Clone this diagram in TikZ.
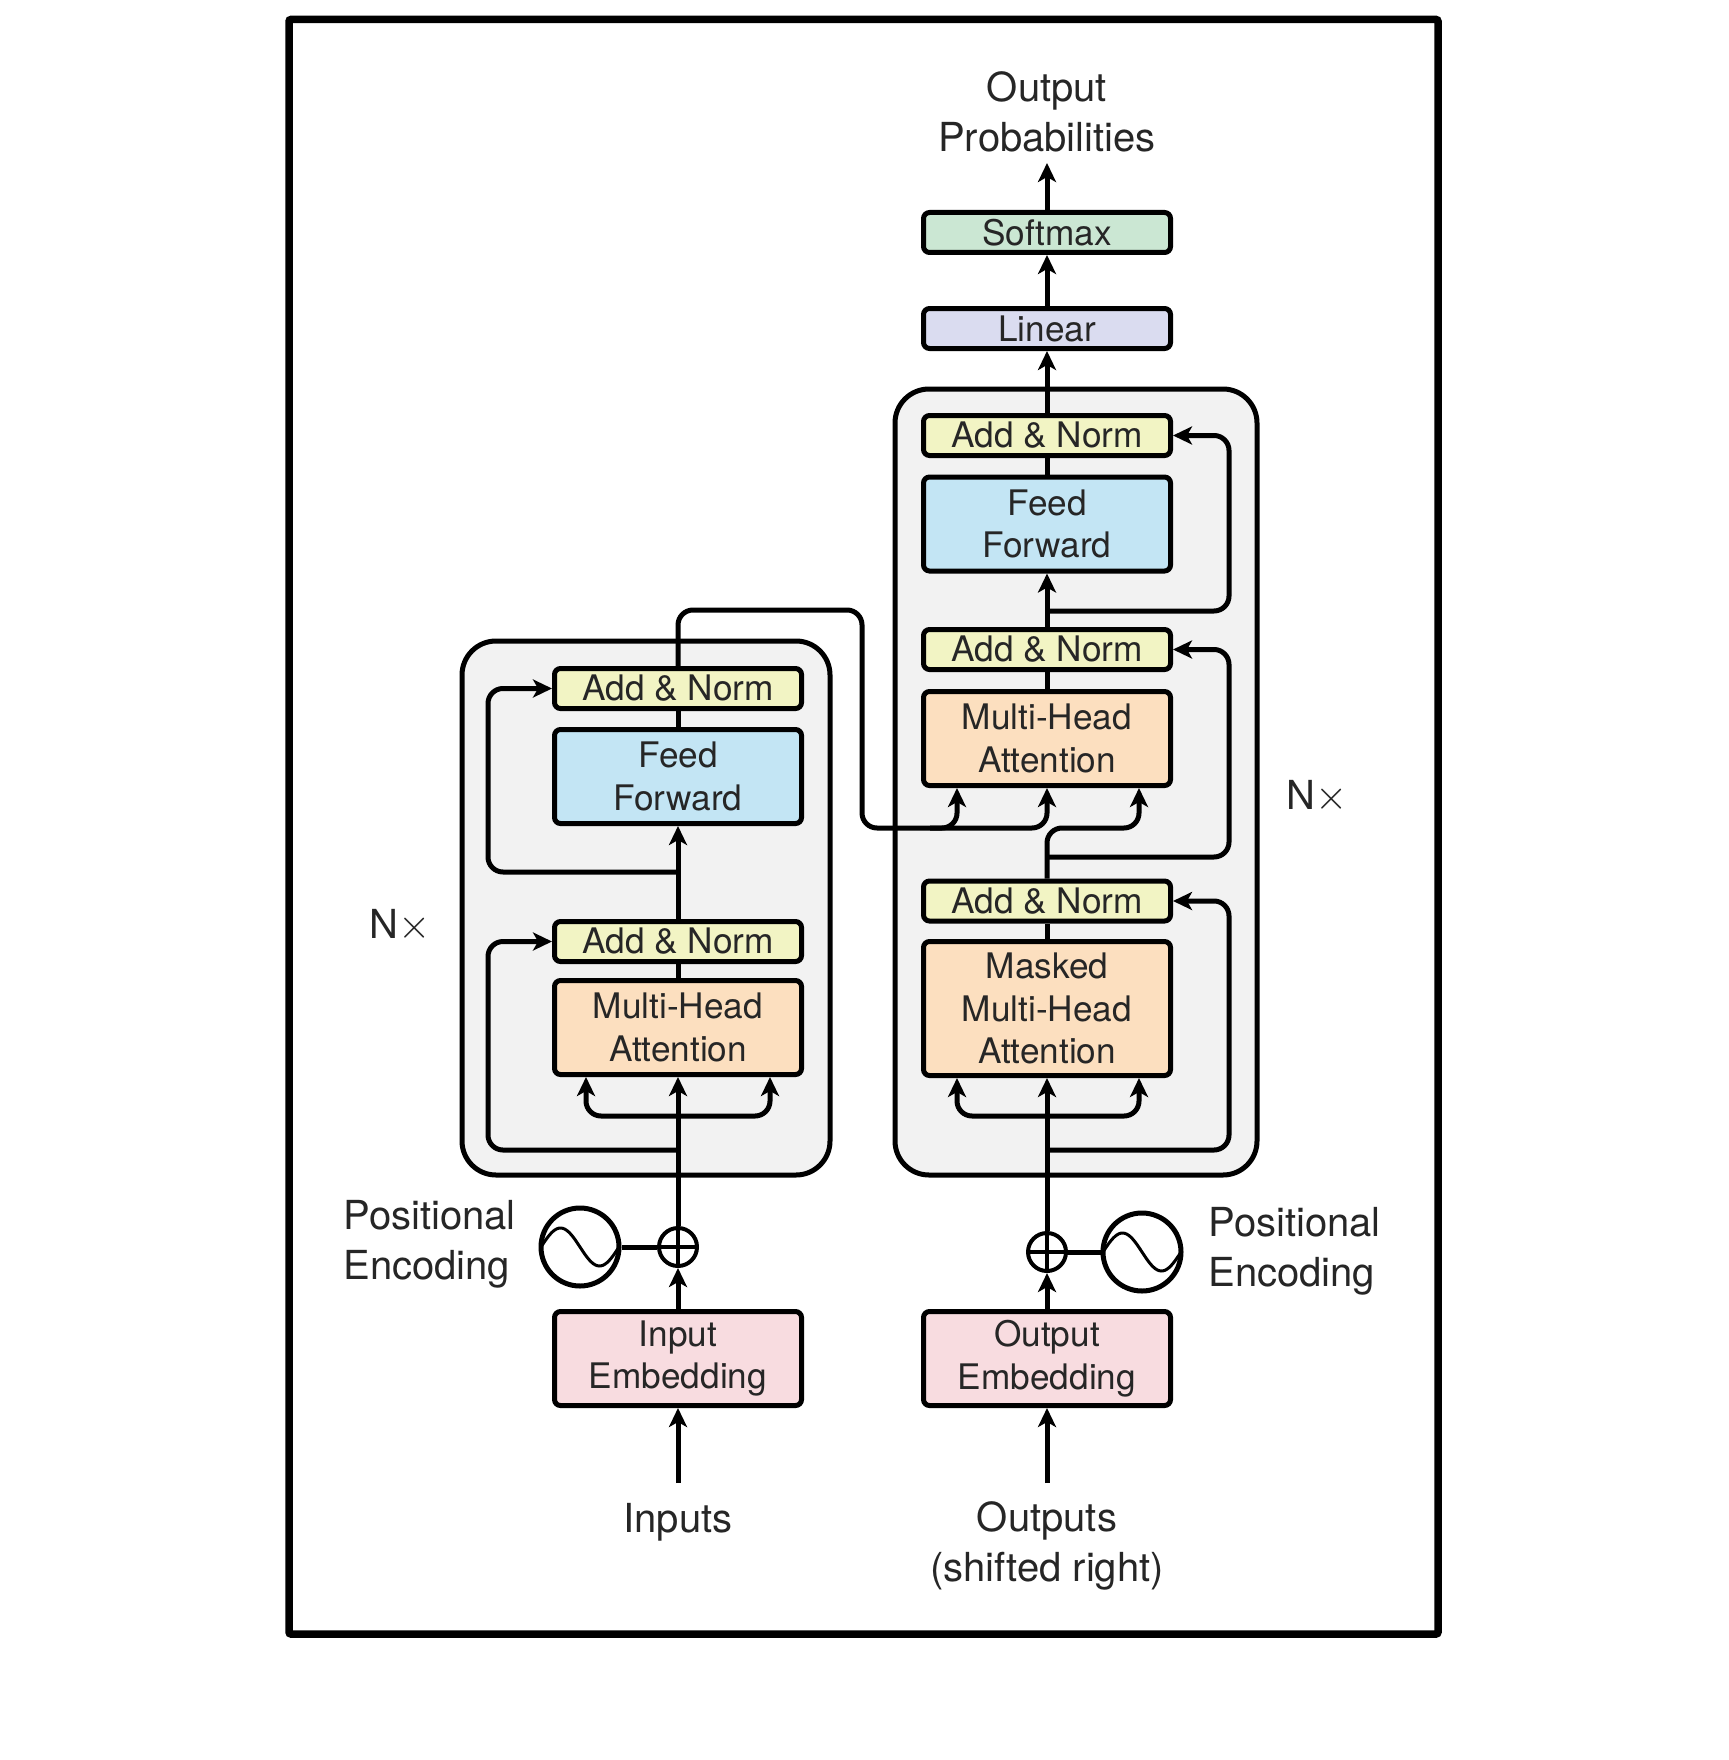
\documentclass[tikz,border=0pt]{standalone}
\usepackage{fontspec}
\setmainfont{TeX Gyre Heros}
\usetikzlibrary{arrows.meta}

\definecolor{normcol}{HTML}{F2F4C4}
\definecolor{ffcol}{HTML}{C3E5F4}
\definecolor{attcol}{HTML}{FCDFBF}
\definecolor{embcol}{HTML}{F8DCE0}
\definecolor{softcol}{HTML}{CBE7D3}
\definecolor{lincol}{HTML}{DADCF0}
\definecolor{layercol}{HTML}{F2F2F2}
\definecolor{txtcol}{HTML}{262626}

\tikzset{
	block/.style={draw, line width=2.5pt, rounded corners=3pt, minimum width=123.5pt,
		inner sep=0pt, align=center, text=txtcol, font=\fontsize{17.6}{21.3}\selectfont},
	norm/.style={block, fill=normcol, minimum height=20pt},
	twoline/.style={block, minimum height=47pt},
	layer/.style={draw, line width=2.5pt, rounded corners=17pt, fill=layercol},
	lab/.style={inner sep=0pt, text=txtcol, align=center, font=\fontsize{20}{25}\selectfont},
	conn/.style={line width=2.5pt, rounded corners=7.5pt},
	arr/.style={conn, -{Stealth[length=9.5pt,width=9pt,inset=2.5pt]}},
	summ/.style={circle, draw, line width=2pt, minimum size=19pt, inner sep=0pt},
	wave/.style={circle, draw, line width=2.5pt, minimum size=39pt, inner sep=0pt}
}

\begin{document}
\begin{tikzpicture}[x=0.5pt,y=-0.5pt]
		\useasboundingbox (0,0) rectangle (1728,1760);
		%frame
		\draw[line width=3.75pt, rounded corners=1pt] (289,19.5) rectangle (1438,1634);
		
		%layer stacks
		\draw[layer] (462,641) rectangle (830,1175);
		\draw[layer] (895,389) rectangle (1257,1175);
		
		%encoder
		\node[block, fill=embcol, minimum height=47pt] (iemb) at (678,1358.5) {Input\\Embedding};
		\node[twoline, fill=attcol] (emha) at (678,1027.5) {Multi-Head\\Attention};
		\node[norm] (ean1) at (678,941.5) {Add \& Norm};
		\node[twoline, fill=ffcol] (eff) at (678,776.5) {Feed\\Forward};
		\node[norm] (ean2) at (678,688.5) {Add \& Norm};
		\node[summ] (eplus) at (678,1247) {};
		\node[wave] (ewave) at (580,1247) {};
		
		%decoder
		\node[block, fill=embcol, minimum height=47pt] (oemb) at (1047,1358.5) {Output\\Embedding};
		\node[block, fill=attcol, minimum height=67pt] (dmmha) at (1047,1008.5) {Masked\\Multi-Head\\Attention};
		\node[norm] (dan1) at (1047,901) {Add \& Norm};
		\node[twoline, fill=attcol] (dmha) at (1047,738.5) {Multi-Head\\Attention};
		\node[norm] (dan2) at (1047,649.5) {Add \& Norm};
		\node[twoline, fill=ffcol] (dff) at (1047,524) {Feed\\Forward};
		\node[norm] (dan3) at (1047,435.5) {Add \& Norm};
		\node[norm, fill=lincol] (lin) at (1047,328.5) {Linear};
		\node[norm, fill=softcol] (soft) at (1047,232.5) {Softmax};
		\node[summ] (dplus) at (1047,1252) {};
		\node[wave] (dwave) at (1142,1252) {};
		
		%labels
		\node[lab] (outprob) at (1047,112) {Output\\Probabilities};
		\node[lab, align=left, anchor=west] (epos) at (343,1244) {Positional\\Encoding};
		\node[lab, align=left, anchor=west] (dpos) at (1208,1251) {Positional\\Encoding};
		\node[lab] (inp) at (678,1522) {Inputs};
		\node[lab] (outp) at (1047,1546) {Outputs\\(shifted right)};
		\node[lab] (enx) at (400,926) {N$\times$};
		\node[lab] (dnx) at (1317,797) {N$\times$};
		
		\coordinate (ein) at (678,1483);
		\coordinate (din) at (1047,1483);
		\coordinate (dout) at (1047,163);
		
		%plus signs and waves
		\foreach \s in {eplus, dplus}{
			\draw[line width=2pt] (\s.north) -- (\s.south);
			\draw[line width=2pt] (\s.west) -- (\s.east);
		}
		\draw[line width=1.5pt] plot[domain=-1:1, samples=40, smooth] ({580+39*\x}, {1247+19*sin(180*\x)});
		\draw[line width=1.5pt] plot[domain=-1:1, samples=40, smooth] ({1142+39*\x}, {1252+19*sin(180*\x)});
		\draw[line width=2.5pt] (ewave) -- (eplus);
		\draw[line width=2.5pt] (dwave) -- (dplus);
		
		%encoder connections
		\draw[arr] (ein) -- (iemb);
		\draw[arr] (iemb) -- (eplus);
		\draw[arr] (eplus) -- (emha);
		\draw[arr] (678,1116) -| (586,0 |- emha.south);
		\draw[arr] (678,1116) -| (770,0 |- emha.south);
		\draw[arr] (678,1150) -- (488,1150) |- (ean1.west);
		\draw[conn] (emha) -- (ean1);
		\draw[arr] (ean1) -- (eff);
		\draw[arr] (678,872) -- (488,872) |- (ean2.west);
		\draw[conn] (eff) -- (ean2);
		
		%encoder to decoder
		\draw[arr] (ean2.north) |- (862,610) -- (862,828) -| (957,0 |- dmha.south);
		\draw[arr] (930,828) -| (dmha.south);
		\draw[arr] (dan1.north) |- (1139,828) -- (1139,0 |- dmha.south);
		
		%decoder connections
		\draw[arr] (din) -- (oemb);
		\draw[arr] (oemb) -- (dplus);
		\draw[arr] (dplus) -- (dmmha);
		\draw[arr] (1047,1116) -| (957,0 |- dmmha.south);
		\draw[arr] (1047,1116) -| (1139,0 |- dmmha.south);
		\draw[arr] (1047,1150) -- (1229,1150) |- (dan1.east);
		\draw[conn] (dmmha) -- (dan1);
		\draw[arr] (1047,857) -- (1229,857) |- (dan2.east);
		\draw[conn] (dmha) -- (dan2);
		\draw[arr] (dan2) -- (dff);
		\draw[arr] (1047,611) -- (1229,611) |- (dan3.east);
		\draw[conn] (dff) -- (dan3);
		\draw[arr] (dan3) -- (lin);
		\draw[arr] (lin) -- (soft);
		\draw[arr] (soft) -- (dout);
		\end{tikzpicture}
\end{document}
